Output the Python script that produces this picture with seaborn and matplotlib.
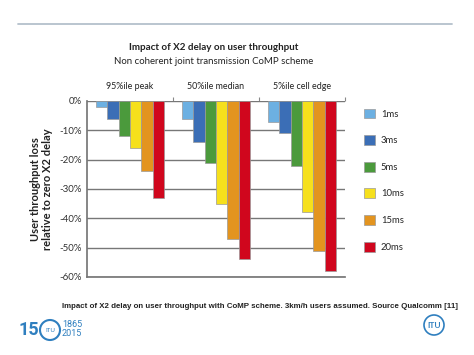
import numpy as np
import pandas as pd
import matplotlib
matplotlib.use("Agg")
import matplotlib.pyplot as plt
import seaborn as sns
from matplotlib.lines import Line2D
from matplotlib.patches import Patch, Ellipse

# data (user throughput loss, %)
groups = ['95%ile peak', '50%ile median', '5%ile cell edge']
delays = ['1ms', '3ms', '5ms', '10ms', '15ms', '20ms']
peak_95 = [-2, -6, -12, -16, -24, -33]
median_50 = [-6, -14, -21, -35, -47, -54]
edge_5 = [-7, -11, -22, -38, -51, -58]
colors = ['#6cb0e2', '#3b6eb6', '#4b9a3c', '#f6e01c', '#e3941f', '#d0061d']
y_ticks = [0, -10, -20, -30, -40, -50, -60]

rows = []
for g, vals in zip(groups, [peak_95, median_50, edge_5]):
    for d, v in zip(delays, vals):
        rows.append({'group': g, 'delay': d, 'loss': v})
df = pd.DataFrame(rows)

sns.set_theme(style='white')
plt.rcParams['font.family'] = ['Lato', 'DejaVu Sans']

W, H = 474, 355
fig = plt.figure(figsize=(W / 100, H / 100), dpi=100)
ax = fig.add_axes([87 / W, 1 - 277 / H, (345 - 87) / W, (277 - 101) / H])

sns.barplot(data=df, x='group', y='loss', hue='delay', order=groups,
            hue_order=delays, palette=colors, saturation=1, width=0.8,
            edgecolor='#9a9a9a', linewidth=0.5, legend=False, ax=ax)

ax.set_xlim(-0.5, 2.5)
ax.set_ylim(-60, 0)
ax.set_yticks(y_ticks)
ax.set_yticklabels([f'{t}%' for t in y_ticks], fontsize=7, color='#333333')
ax.yaxis.grid(True, color='#777777', linewidth=1.0)
ax.set_axisbelow(True)
ax.tick_params(axis='y', length=0, pad=4)

ax.xaxis.tick_top()
ax.set_xticks([0, 1, 2])
ax.set_xticklabels(groups, fontsize=6.4, color='#222222')
ax.set_xticks([0.5, 1.5, 2.5], minor=True)
ax.tick_params(axis='x', which='major', length=0, pad=7)
ax.tick_params(axis='x', which='minor', length=3, width=0.8, color='#888888',
               direction='out', top=True, bottom=False)
ax.set_xlabel('')
ax.set_ylabel('User throughput loss\nrelative to zero X2 delay', fontsize=8,
              fontweight='bold', color='#222222', labelpad=4)
for s in ['top', 'right']:
    ax.spines[s].set_visible(False)
ax.spines['left'].set_color('#777777')
ax.spines['bottom'].set_color('#777777')

handles = [Patch(facecolor=c, edgecolor='#9a9a9a', linewidth=0.5) for c in colors]
fig.legend(handles, delays, loc='upper left', bbox_to_anchor=(355 / W, 1 - 100 / H),
           frameon=False, fontsize=6.8, handlelength=1.25, handleheight=1.25,
           labelspacing=1.74, handletextpad=0.6)

fig.text(214 / W, 1 - 47 / H, 'Impact of X2 delay on user throughput', ha='center',
         va='center', fontsize=7.1, fontweight='bold', color='#222222')
fig.text(214 / W, 1 - 61 / H, 'Non coherent joint transmission CoMP scheme', ha='center',
         va='center', fontsize=6.9, color='#222222')

caption = fig.text(62 / W, 1 - 306 / H,
                   'Impact of X2 delay on user throughput with CoMP scheme. 3km/h users assumed. Source Qualcomm [11]',
                   ha='left', va='center', fontsize=6.3, fontweight='bold',
                   family=['Liberation Sans Narrow', 'Liberation Sans'], color='#222222')
# shrink the caption so it spans the same width as in the reference (~398 px)
renderer = fig.canvas.get_renderer()
cw = caption.get_window_extent(renderer).width
if cw > 398:
    caption.set_fontsize(6.3 * 398 / cw)

# header rule
fig.add_artist(Line2D([18 / W, 452 / W], [1 - 23.5 / H] * 2, color='#b4c0cc', lw=1.3))

# footer logos (approximation)
blue = '#2f7fbf'
fig.text(19 / W, 1 - 330 / H, '15', fontsize=13, fontweight='bold', color=blue,
         va='center', ha='left', family=['Roboto', 'Liberation Sans'])
fig.add_artist(Ellipse((50 / W, 1 - 330 / H), 20 / W, 20 / H, transform=fig.transFigure,
                       fill=False, edgecolor=blue, lw=1.5))
fig.text(50 / W, 1 - 330 / H, 'ITU', fontsize=4.5, color=blue, ha='center', va='center')
fig.text(62 / W, 1 - 329 / H, '1865\n2015', fontsize=6.5, color=blue, va='center',
         ha='left', linespacing=0.95, family=['Roboto', 'Liberation Sans'])
fig.add_artist(Ellipse((434 / W, 1 - 325 / H), 20 / W, 20 / H, transform=fig.transFigure,
                       fill=False, edgecolor=blue, lw=1.2))
fig.text(434 / W, 1 - 325 / H, 'ITU', fontsize=6, fontweight='bold', color=blue,
         ha='center', va='center')

fig.savefig('out.png', dpi=100, facecolor='white')
